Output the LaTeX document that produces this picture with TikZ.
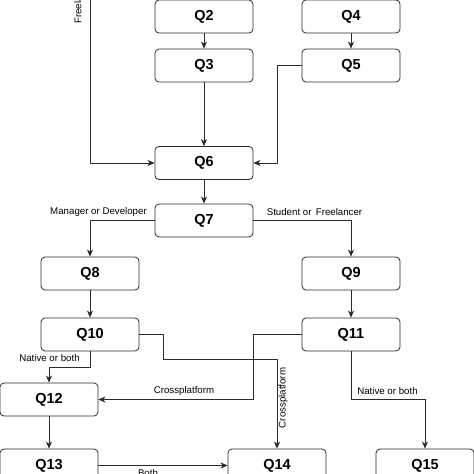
\documentclass[tikz,border=0pt]{standalone}
\usepackage{fontspec}
\setmainfont{Liberation Sans}
\usetikzlibrary{arrows.meta}
\definecolor{linegray}{HTML}{2B2B2B}
\begin{document}
\begin{tikzpicture}[x=1pt,y=-1pt,
qbox/.style={draw=linegray, line width=0.8pt, rounded corners=4pt, minimum width=98pt, minimum height=33pt, font=\bfseries\fontsize{14.5}{16}\selectfont},
flow/.style={draw=linegray, line width=0.8pt, -{Stealth[length=7pt,width=6pt,inset=2pt]}},
lbl/.style={font=\fontsize{9.7}{11}\selectfont, inner sep=1pt}]
\useasboundingbox (0,0) rectangle (474,474);
\node[qbox] (q2) at (204,16.5){Q2};
\node[qbox] (q3) at (204,65.5){Q3};
\node[qbox] (q4) at (351,16.5){Q4};
\node[qbox] (q5) at (351,65.5){Q5};
\node[qbox] (q6) at (204,163){Q6};
\node[qbox] (q7) at (204,220.5){Q7};
\node[qbox] (q8) at (90,273.5){Q8};
\node[qbox] (q9) at (351,273.5){Q9};
\node[qbox] (q10) at (90,334.5){Q10};
\node[qbox] (q11) at (351,334.5){Q11};
\node[qbox] (q12) at (49,399.5){Q12};
\node[qbox] (q13) at (49,465.5){Q13};
\node[qbox] (q14) at (277,465.5){Q14};
\node[qbox] (q15) at (425,465.5){Q15};
\coordinate (free) at (90,-30);
\draw[flow] (q2) -- (q3);
\draw[flow] (q4) -- (q5);
\draw[flow] (q3) -- (q6);
\draw[flow] (free) |- (q6);
\node[lbl, rotate=90] (freelbl) at (78,0.5){Freelancer};
\draw[flow] (q5.west) -- ++(-24,0) |- (q6.east);
\draw[flow] (q6) -- (q7);
\draw[flow] (q7) -| (q8);
\node[lbl] (mdlbl) at (98.5,212){Manager or Developer};
\draw[flow] (q7) -| (q9);
\node[lbl] (sflbl) at (314.5,212){Student or\, Freelancer};
\draw[flow] (q8) -- (q10);
\draw[flow] (q9) -- (q11);
\draw[flow] (q10.south) -- (90,367) -| (q12.north);
\node[lbl] (nb1) at (49.5,358){Native or both};
\draw[flow] (q10.east) -| (163,359) -| (q14.north);
\node[lbl, rotate=90] (cp1) at (283,398){Crossplatform};
\draw[flow] (q11.west) -- (253,334.5) |- (q12.east);
\node[lbl] (cp2) at (184,391){Crossplatform};
\draw[flow] (q11.south) -- (351,399) -| (q15.north);
\node[lbl] (nb2) at (387.5,391){Native or both};
\draw[flow] (q12) -- (q13);
\draw[flow] (q13) -- (q14);
\node[lbl, anchor=north] (bothlbl) at (148,468){Both};
\end{tikzpicture}
\end{document}
